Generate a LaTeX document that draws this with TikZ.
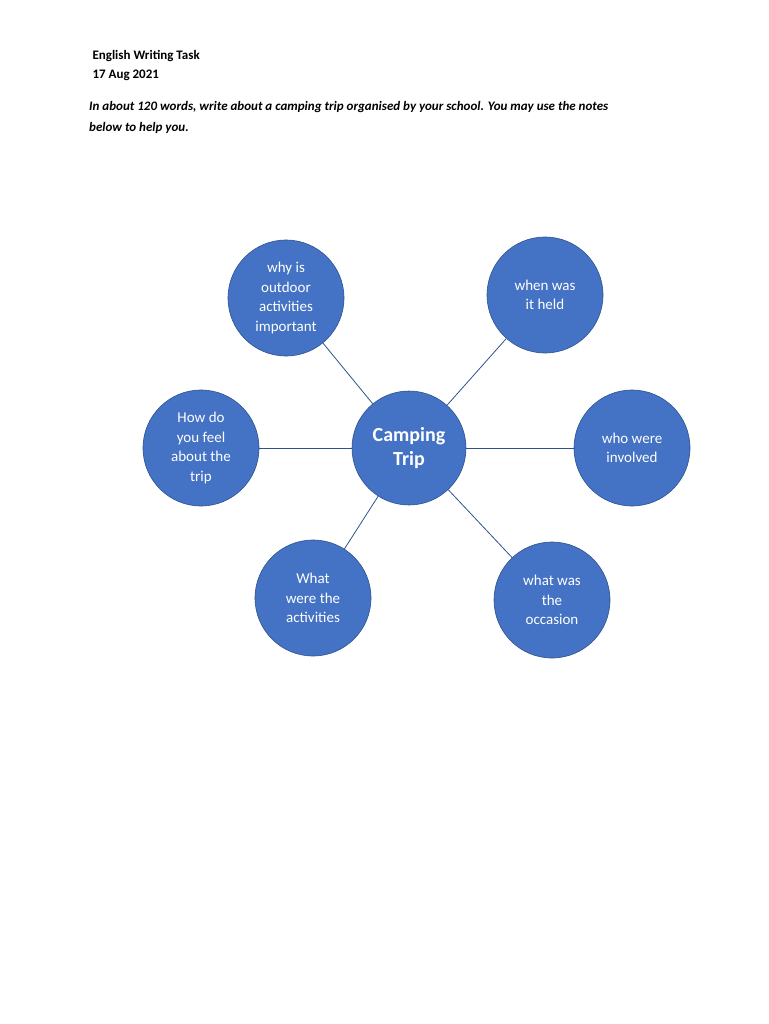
\documentclass[tikz,border=0pt]{standalone}
\usepackage{fontspec}
\setmainfont{Carlito}
\usetikzlibrary{positioning}
\definecolor{bubble}{HTML}{4472C4}
\definecolor{rim}{HTML}{2F528F}
\tikzset{
  idea/.style={circle,fill=bubble,draw=rim,line width=0.6pt,minimum size=116pt,inner sep=0pt,
    text=white,align=center,font=\fontsize{15}{19.5}\selectfont},
  hub/.style={idea,minimum size=114pt,font=\fontsize{20}{24}\selectfont\bfseries},
  link/.style={draw=rim,line width=0.8pt}
}
\begin{document}
\begin{tikzpicture}[x=1pt,y=-1pt]
\useasboundingbox (0,0) rectangle (768,1024);
% heading
\node[anchor=west,font=\fontsize{13}{15}\selectfont\bfseries] (title) at (89,56) {English Writing Task};
\node[anchor=west,font=\fontsize{13}{15}\selectfont\bfseries] (date) at (89,75) {17 Aug 2021};
\node[anchor=north west,align=left,inner sep=0pt,font=\fontsize{13}{21}\selectfont\bfseries\itshape] (task) at (89,101)
  {In about 120 words, write about a camping trip organised by your school. You may use the notes\\below to help you.};
% bubbles
\node[hub] (camp) at (409,448) {Camping\\Trip};
\node[idea] (why) at (286,298) {why is\\outdoor\\activities\\important};
\node[idea] (when) at (545,295) {when was\\it held};
\node[idea] (feel) at (201,448) {How do\\you feel\\about the\\trip};
\node[idea] (who) at (632,448) {who were\\involved};
\node[idea] (acts) at (313,598) {What\\were the\\activities};
\node[idea] (occ) at (552,600) {what was\\the\\occasion};
% spokes
\foreach \leaf in {why,when,feel,who,acts,occ}
  \draw[link] (camp) -- (\leaf);
\end{tikzpicture}
\end{document}
